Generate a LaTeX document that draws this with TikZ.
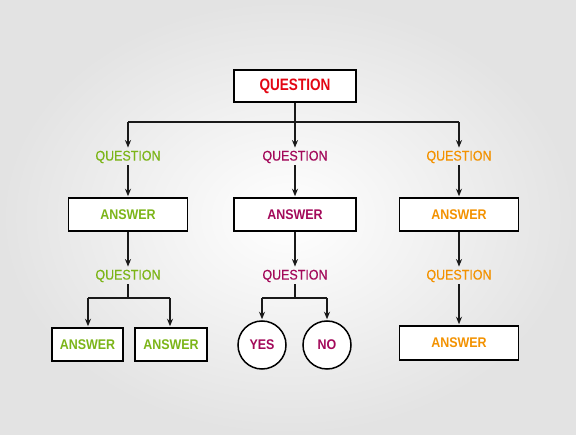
\documentclass[tikz,border=0pt]{standalone}
\usepackage{fontspec}
\setmainfont{Liberation Sans}
\newfontfamily\cond[FakeStretch=0.89]{Liberation Sans}
\newfontfamily\condq[FakeStretch=0.89,FakeBold=0.5]{Liberation Sans}
\newfontfamily\condtop[FakeStretch=0.82]{Liberation Sans}
\usetikzlibrary{arrows.meta}
\definecolor{qred}{HTML}{E30613}
\definecolor{qgreen}{HTML}{7CB518}
\definecolor{qmag}{HTML}{A3095A}
\definecolor{qorange}{HTML}{F39200}
\tikzset{
  box/.style={draw=black, line width=1.5pt, fill=white, rectangle, inner sep=0pt, font=\cond\fontsize{14}{16}\selectfont\bfseries},
  circ/.style={draw=black, line width=1.5pt, fill=white, circle, minimum size=48pt, inner sep=0pt, font=\cond\fontsize{14}{16}\selectfont\bfseries},
  qtext/.style={inner sep=2pt, font=\condq\fontsize{14}{16}\selectfont},
  conn/.style={line width=1.4pt, draw=black!90},
  arr/.style={conn, -{Stealth[length=7.5pt,width=6pt]}, shorten >=1pt}
}
\begin{document}
\begin{tikzpicture}[x=1pt,y=-1pt]
\shade[inner color=white, outer color=gray!22] (0,0) rectangle (576,435);
\useasboundingbox (0,0) rectangle (576,435);

% top
\node[box, minimum width=122pt, minimum height=32pt, text=qred, font=\condtop\fontsize{16.5}{18}\selectfont\bfseries] (q0) at (295,86) {QUESTION};
\coordinate (j0) at (295,122);
\coordinate (ja) at (128,122);
\coordinate (jc) at (459,122);

% level 1 questions
\node[qtext, text=qgreen] (q1a) at (128,157) {QUESTION};
\node[qtext, text=qmag] (q1b) at (295,157) {QUESTION};
\node[qtext, text=qorange] (q1c) at (459,157) {QUESTION};

% level 1 answers
\node[box, minimum width=119pt, minimum height=33pt, text=qgreen] (a1a) at (128,214.5) {ANSWER};
\node[box, minimum width=122pt, minimum height=33pt, text=qmag] (a1b) at (295,214.5) {ANSWER};
\node[box, minimum width=119pt, minimum height=33pt, text=qorange] (a1c) at (459,214.5) {ANSWER};

% level 2 questions
\node[qtext, text=qgreen] (q2a) at (128,276) {QUESTION};
\node[qtext, text=qmag] (q2b) at (295,276) {QUESTION};
\node[qtext, text=qorange] (q2c) at (459,276) {QUESTION};

% level 2 answers
\node[box, minimum width=71pt, minimum height=33pt, text=qgreen] (a2a) at (87.5,344.5) {ANSWER};
\node[box, minimum width=72pt, minimum height=33pt, text=qgreen] (a2b) at (171,344.5) {ANSWER};
\node[circ, text=qmag] (yes) at (262,345) {YES};
\node[circ, text=qmag] (no) at (327,345) {NO};
\node[box, minimum width=119pt, minimum height=34pt, text=qorange] (a2c) at (459,343) {ANSWER};

% junctions level 2
\coordinate (jl) at (128,298);
\coordinate (jl1) at (88,298);
\coordinate (jl2) at (170,298);
\coordinate (jm) at (295,298);
\coordinate (jm1) at (262,298);
\coordinate (jm2) at (327,298);

% connectors top
\draw[conn] (q0.south) -- (j0);
\draw[conn] (ja) -- (jc);
\draw[arr] (ja) -- (q1a.north);
\draw[arr] (j0) -- (q1b.north);
\draw[arr] (jc) -- (q1c.north);

% question -> answer
\draw[arr] (q1a.south) -- (a1a.north);
\draw[arr] (q1b.south) -- (a1b.north);
\draw[arr] (q1c.south) -- (a1c.north);

% answer -> question
\draw[arr] (a1a.south) -- (q2a.north);
\draw[arr] (a1b.south) -- (q2b.north);
\draw[arr] (a1c.south) -- (q2c.north);

% left split
\draw[conn] (q2a.south) -- (jl);
\draw[conn] (jl1) -- (jl2);
\draw[arr] (jl1) -- (jl1 |- a2a.north);
\draw[arr] (jl2) -- (jl2 |- a2b.north);

% middle split
\draw[conn] (q2b.south) -- (jm);
\draw[conn] (jm1) -- (jm2);
\draw[arr] (jm1) -- (yes.north);
\draw[arr] (jm2) -- (no.north);

% right
\draw[arr] (q2c.south) -- (a2c.north);
\end{tikzpicture}
\end{document}
